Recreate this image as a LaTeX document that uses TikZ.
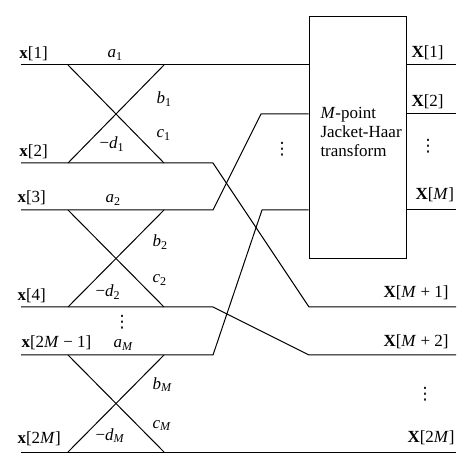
\documentclass[tikz,border=0pt]{standalone}
\usepackage{fontspec}
\setmainfont{Liberation Serif}
\newfontfamily\dotfont{DejaVu Sans}
\newcommand{\lsub}[2]{\textit{#1}\raisebox{-0.3ex}{\fontsize{12}{12}\selectfont#2}}
\newcommand{\vdts}{{\dotfont\fontsize{17}{17}\selectfont ⋮}}
\begin{document}
\begin{tikzpicture}[x=1pt,y=-1pt,line width=1pt,
  lbl/.style={inner sep=0pt,font=\fontsize{17}{19}\selectfont},
  wire/.style={line width=1pt,line join=round}]
\useasboundingbox (0,0) rectangle (474,470);
% box
\node[draw,line width=1pt,minimum width=97pt,minimum height=242pt,inner sep=0pt] (box) at (357.5,138) {};
\node[lbl,align=left,anchor=west] (boxtext) at (320,132.4) {\textit{M}-point\\Jacket-Haar\\transform};
% coordinates
\coordinate (i1) at (21,65);
\coordinate (i2) at (21,163);
\coordinate (i3) at (21,210);
\coordinate (i4) at (21,307);
\coordinate (i5) at (21,355);
\coordinate (i6) at (21,452);
\coordinate (p1a) at (68,65);  \coordinate (p1b) at (164,65);
\coordinate (p2a) at (68,163); \coordinate (p2b) at (164,163);
\coordinate (p3a) at (68,210); \coordinate (p3b) at (164,210);
\coordinate (p4a) at (68,307); \coordinate (p4b) at (164,307);
\coordinate (p5a) at (68,355); \coordinate (p5b) at (164,355);
\coordinate (p6a) at (68,452); \coordinate (p6b) at (164,452);
\coordinate (k2) at (213,163);
\coordinate (k3) at (213,210);
\coordinate (k4) at (213,307);
\coordinate (k5) at (213,355);
\coordinate (u3) at (261,114);
\coordinate (u5) at (262,210);
\coordinate (m1) at (309,307);
\coordinate (m2) at (309,355);
\coordinate (o1) at (456,65);
\coordinate (o2) at (456,114);
\coordinate (o3) at (456,210);
\coordinate (o4) at (456,307);
\coordinate (o5) at (456,355);
\coordinate (o6) at (456,452);
% wires
\draw[wire] (i1) -- (i1 -| box.west);
\draw[wire] (i2) -- (k2) -- (m1) -- (o4);
\draw[wire] (i3) -- (k3) -- (u3) -- (u3 -| box.west);
\draw[wire] (i4) -- (k4) -- (m2) -- (o5);
\draw[wire] (i5) -- (k5) -- (u5) -- (u5 -| box.west);
\draw[wire] (i6) -- (o6);
% butterflies
\draw[wire] (p1a) -- (p2b);
\draw[wire] (p2a) -- (p1b);
\draw[wire] (p3a) -- (p4b);
\draw[wire] (p4a) -- (p3b);
\draw[wire] (p5a) -- (p6b);
\draw[wire] (p6a) -- (p5b);
% outputs
\draw[wire] (box.east |- o1) -- (o1);
\draw[wire] (box.east |- o2) -- (o2);
\draw[wire] (box.east |- o3) -- (o3);
% input labels
\node[lbl,anchor=base west] (lx1) at (19,59) {\textbf{x}[1]};
\node[lbl,anchor=base west] (lx2) at (19,157) {\textbf{x}[2]};
\node[lbl,anchor=base west] (lx3) at (17,203) {\textbf{x}[3]};
\node[lbl,anchor=base west] (lx4) at (17,301) {\textbf{x}[4]};
\node[lbl,anchor=base west] (lx5) at (21,348) {\textbf{x}[2\textit{M} − 1]};
\node[lbl,anchor=base west] (lx6) at (17,443) {\textbf{x}[2\textit{M}]};
% coefficient labels
\node[lbl,anchor=base west] (la1) at (107,58) {\lsub{a}{1}};
\node[lbl,anchor=base west] (lb1) at (156,104) {\lsub{b}{1}};
\node[lbl,anchor=base west] (lc1) at (156,138) {\lsub{c}{1}};
\node[lbl,anchor=base west] (ld1) at (99,149) {−\lsub{d}{1}};
\node[lbl,anchor=base west] (la2) at (105,203) {\lsub{a}{2}};
\node[lbl,anchor=base west] (lb2) at (152,247) {\lsub{b}{2}};
\node[lbl,anchor=base west] (lc2) at (152,283) {\lsub{c}{2}};
\node[lbl,anchor=base west] (ld2) at (95,297) {−\lsub{d}{2}};
\node[lbl] (ldots1) at (122,322) {\vdts};
\node[lbl,anchor=base west] (laM) at (113,348) {\lsub{a}{\textit{M}}};
\node[lbl,anchor=base west] (lbM) at (152,389) {\lsub{b}{\textit{M}}};
\node[lbl,anchor=base west] (lcM) at (152,428) {\lsub{c}{\textit{M}}};
\node[lbl,anchor=base west] (ldM) at (95,440) {−\lsub{d}{\textit{M}}};
% middle dots
\node[lbl] (ldots2) at (282,149) {\vdts};
% output labels
\node[lbl,anchor=base west] (lX1) at (411,58) {\textbf{X}[1]};
\node[lbl,anchor=base west] (lX2) at (411,107) {\textbf{X}[2]};
\node[lbl] (ldots3) at (428,146) {\vdts};
\node[lbl,anchor=base west] (lX3) at (415,200) {\textbf{X}[\textit{M}]};
\node[lbl,anchor=base west] (lX4) at (383,298) {\textbf{X}[\textit{M} + 1]};
\node[lbl,anchor=base west] (lX5) at (383,347) {\textbf{X}[\textit{M} + 2]};
\node[lbl] (ldots4) at (425,394) {\vdts};
\node[lbl,anchor=base west] (lX6) at (407,442) {\textbf{X}[2\textit{M}]};
\end{tikzpicture}
\end{document}
